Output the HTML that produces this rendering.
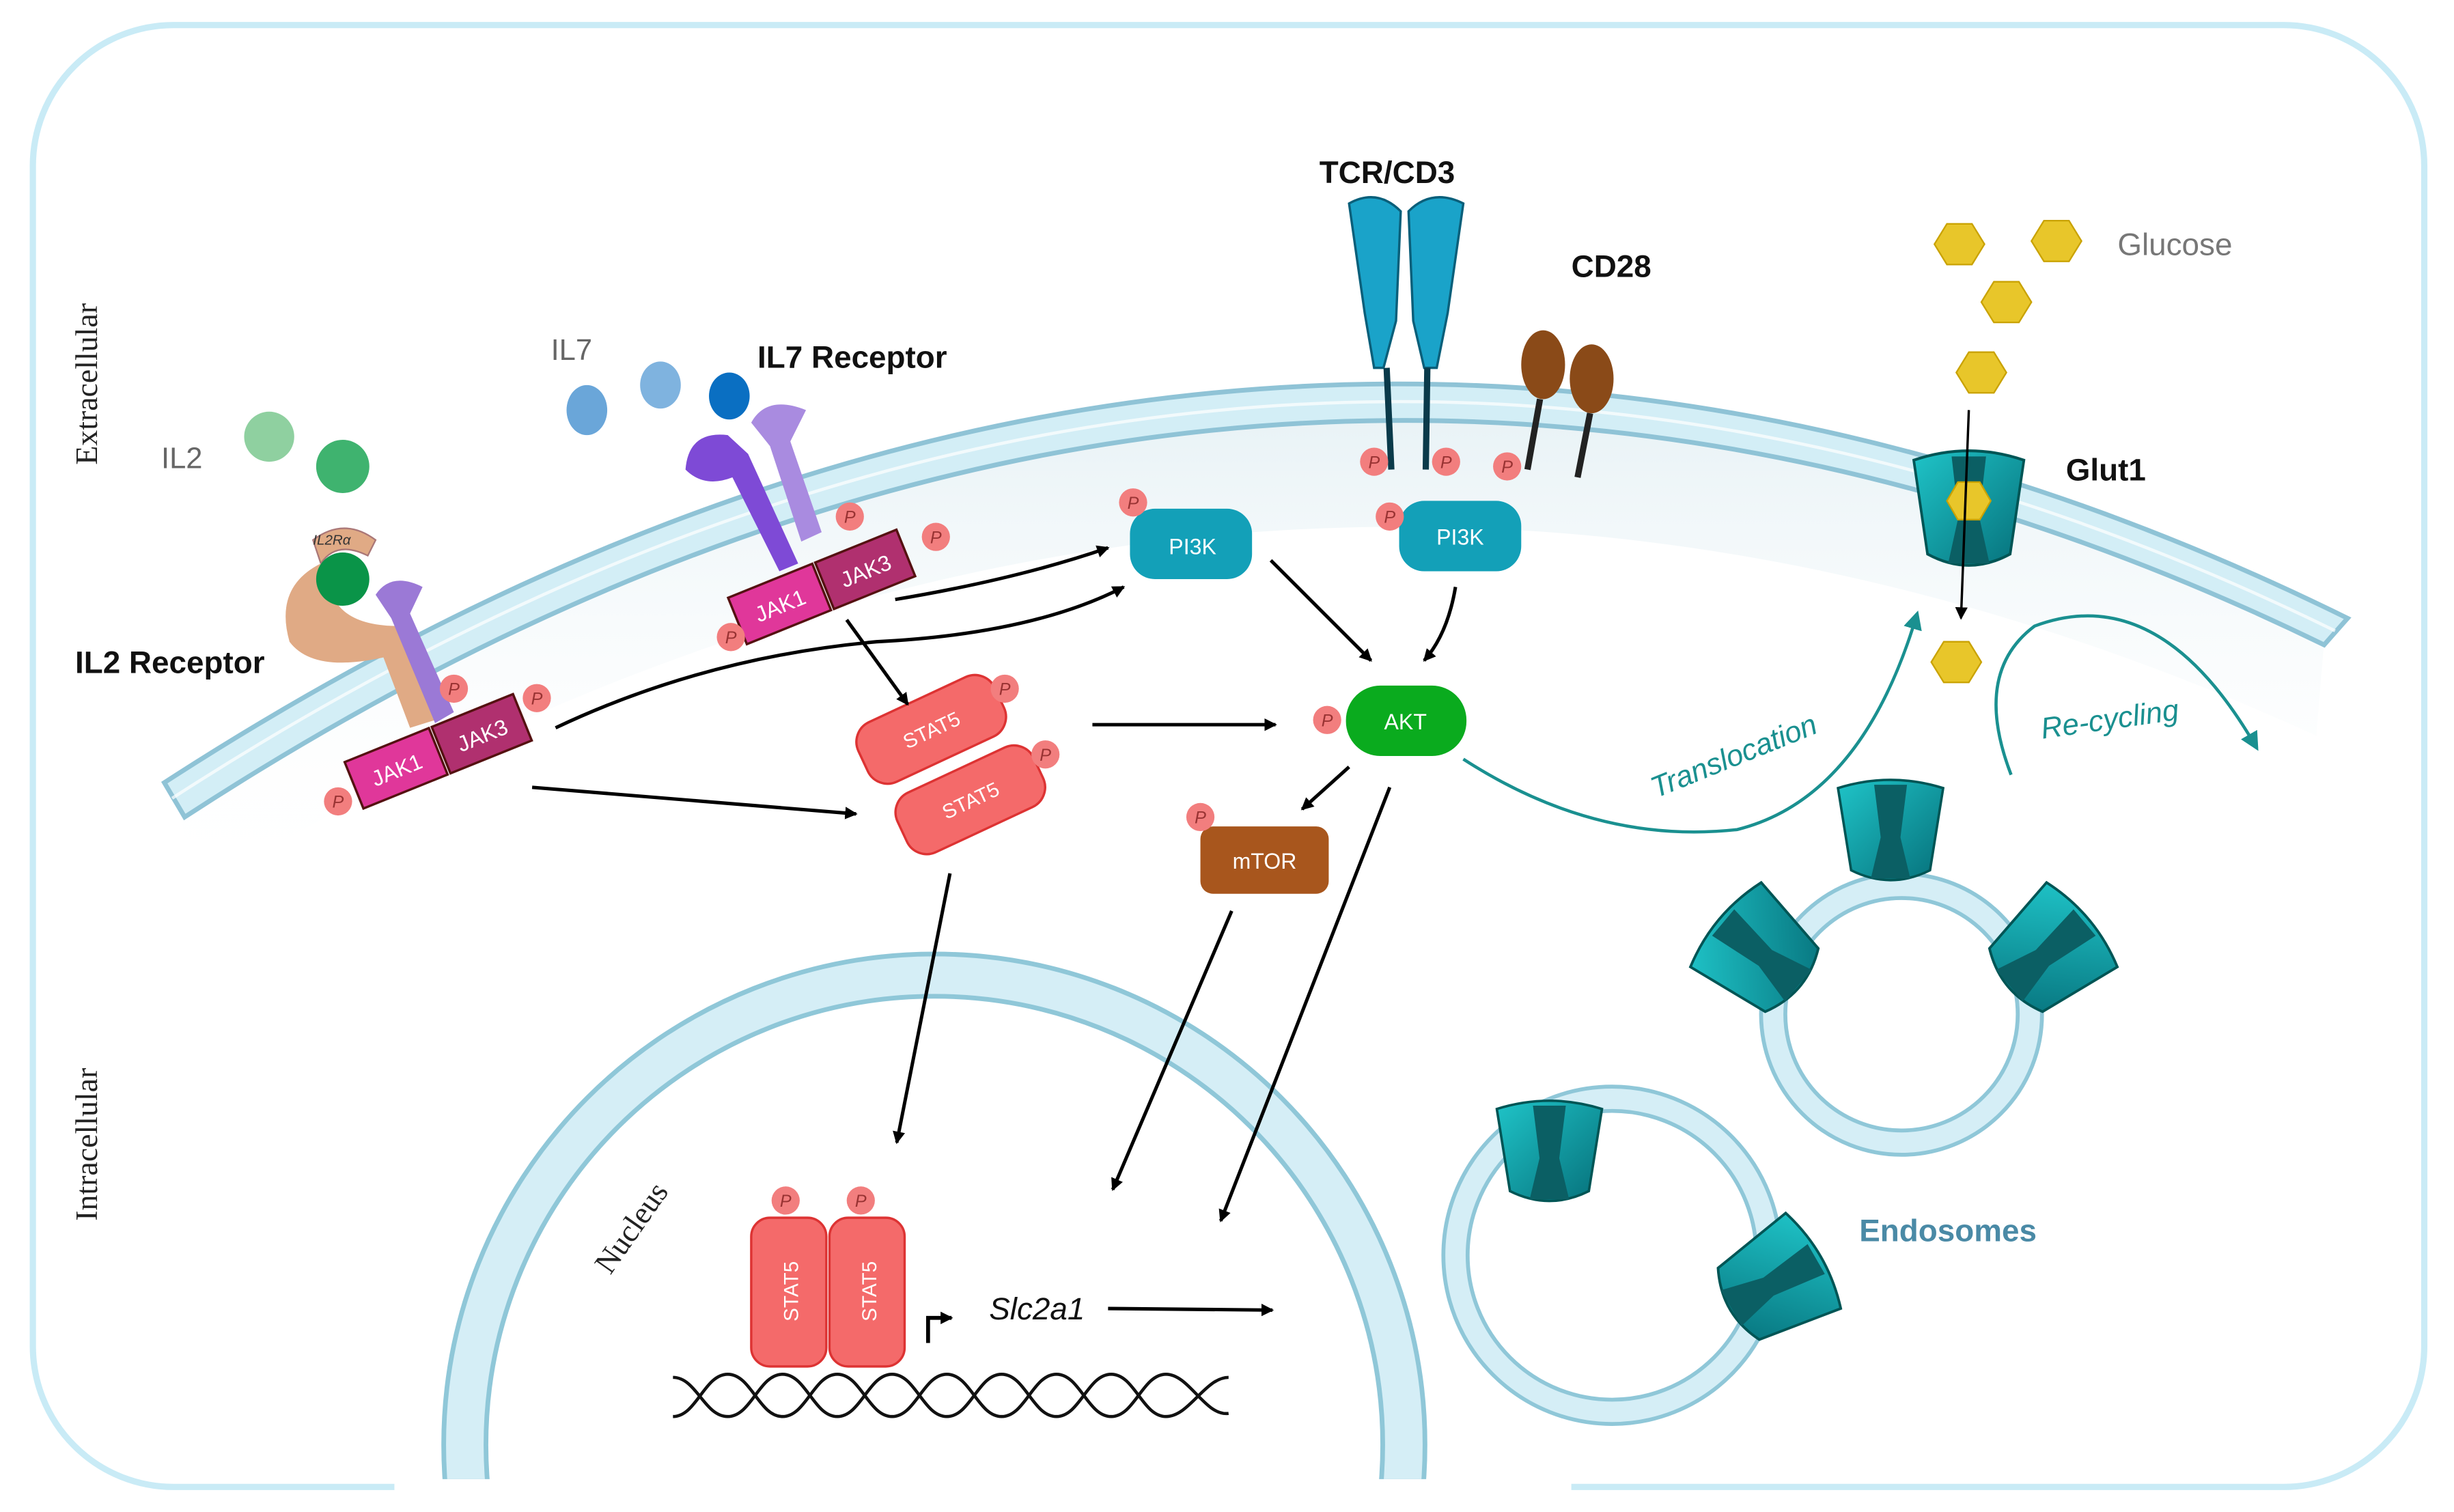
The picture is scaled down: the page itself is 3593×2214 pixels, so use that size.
<!DOCTYPE html>
<html><head><meta charset="utf-8"><style>
html,body{margin:0;padding:0;background:#fff;overflow:hidden;width:3593px;height:2214px}
svg{display:block}
text{font-family:"Liberation Sans",sans-serif}
text.serif{font-family:"Liberation Serif",serif}
</style></head><body>
<svg width="3593" height="2214" viewBox="0 0 1568 966" preserveAspectRatio="none" xmlns="http://www.w3.org/2000/svg">
<defs>
<marker id="ah" markerWidth="8" markerHeight="8" refX="7" refY="4" orient="auto" markerUnits="userSpaceOnUse"><path d="M0,0 L8,4 L0,8 Z" fill="#000"/></marker>
<marker id="at" markerWidth="12" markerHeight="12" refX="10" refY="6" orient="auto" markerUnits="userSpaceOnUse"><path d="M0,0 L12,6 L0,12 Z" fill="#1a9090"/></marker>
<linearGradient id="shade" x1="0" y1="0" x2="0" y2="1"><stop offset="0" stop-color="#e6f1f5"/><stop offset="1" stop-color="#fff" stop-opacity="0"/></linearGradient>
<linearGradient id="teal" x1="0" y1="0" x2="1" y2="1"><stop offset="0" stop-color="#1fc4c8"/><stop offset="1" stop-color="#06707a"/></linearGradient>
<clipPath id="nc"><rect x="0" y="0" width="1568" height="945"/></clipPath>
<g id="glut">
<path d="M-32,-30 Q0,-40 32,-30 L24,20 Q0,32 -24,20 Z" fill="url(#teal)" stroke="#055" stroke-width="1.5"/>
<path d="M-10,-32 L10,-32 L6,0 L12,25 L-12,25 L-6,0 Z" fill="#0b5f64"/>
</g>
<g id="pp"><circle r="9" fill="#f27e7e"/><text x="0" y="4" font-size="11" text-anchor="middle" fill="#933" font-style="italic">P</text></g>
</defs>
<rect x="21" y="16" width="1528" height="934" rx="90" fill="none" stroke="#c9ebf6" stroke-width="4"/>
<rect x="252" y="940" width="752" height="20" fill="#fff"/>
<path d="M115,520 Q800,75 1485,410 L1480,470 Q800,160 125,570 Z" fill="url(#shade)" opacity="0.9"/>
<path d="M105,500 Q800,50 1500,395 L1485,412 Q800,78 118,522 Z" fill="#d3eef6" stroke="#8fc3d6" stroke-width="3"/>
<path d="M110,510 Q800,64 1492,403" fill="none" stroke="#fff" stroke-width="2" opacity="0.7"/>
<g clip-path="url(#nc)">
<circle cx="597" cy="923" r="300" fill="none" stroke="#8fc7d8" stroke-width="30"/>
<circle cx="597" cy="923" r="300" fill="none" stroke="#d5eef6" stroke-width="24"/>
</g>
<circle cx="1215" cy="648" r="82" fill="none" stroke="#8fc7d8" stroke-width="18"/>
<circle cx="1215" cy="648" r="82" fill="none" stroke="#d5eef6" stroke-width="13"/>
<circle cx="1030" cy="802" r="100" fill="none" stroke="#8fc7d8" stroke-width="18"/>
<circle cx="1030" cy="802" r="100" fill="none" stroke="#d5eef6" stroke-width="13"/>
<use href="#glut" transform="translate(1208,535) scale(1.05)"/>
<use href="#glut" transform="translate(1128,612) rotate(-50) scale(1.1)"/>
<use href="#glut" transform="translate(1305,612) rotate(50) scale(1.1)"/>
<use href="#glut" transform="translate(990,740) scale(1.05)"/>
<use href="#glut" transform="translate(1130,822) rotate(60) scale(1.1)"/>
<text x="1188" y="793" font-size="20" font-weight="bold" fill="#4a8aa6">Endosomes</text>
<text class="serif" transform="translate(62,297) rotate(-90)" font-size="20" fill="#222">Extracellular</text>
<text class="serif" transform="translate(62,780) rotate(-90)" font-size="20" fill="#222">Intracellular</text>
<text class="serif" transform="translate(390,815) rotate(-55)" font-size="20" fill="#222">Nucleus</text>
<text x="103" y="299" font-size="19" fill="#666">IL2</text>
<circle cx="172" cy="279" r="16" fill="#8fd0a0"/>
<circle cx="219" cy="298" r="17" fill="#3fb36f"/>
<text x="48" y="430" font-size="20" font-weight="bold" fill="#111">IL2 Receptor</text>
<path d="M200,345 Q220,330 240,345 L235,355 Q215,345 205,360 Z" fill="#e0aa85" stroke="#a77" stroke-width="1"/>
<text x="200" y="348" font-size="9" fill="#333" font-style="italic">IL2Rα</text>
<path d="M205,360 Q175,375 185,410 Q200,430 245,420 L262,465 L278,460 L255,400 Q225,400 215,385 Z" fill="#e0aa85"/>
<circle cx="219" cy="370" r="17" fill="#0a9448"/>
<path d="M240,380 Q250,365 270,375 L262,392 L290,455 L278,462 L250,395 Z" fill="#9b79d6"/>
<g transform="translate(280,480) rotate(-22)">
<rect x="-58" y="-16" width="58" height="32" fill="#e0379a" stroke="#511" stroke-width="1.5"/>
<rect x="2" y="-16" width="56" height="32" fill="#b0306f" stroke="#511" stroke-width="1.5"/>
<text x="-29" y="6" font-size="14" fill="#fff" text-anchor="middle">JAK1</text>
<text x="30" y="6" font-size="14" fill="#fff" text-anchor="middle">JAK3</text>
</g>
<use href="#pp" x="216" y="512"/><use href="#pp" x="290" y="440"/><use href="#pp" x="343" y="446"/>
<text x="352" y="230" font-size="19" fill="#666">IL7</text>
<ellipse cx="375" cy="262" rx="13" ry="16" fill="#6aa6d9"/>
<ellipse cx="422" cy="246" rx="13" ry="15" fill="#7fb3df"/>
<ellipse cx="466" cy="253" rx="13" ry="15" fill="#0a6fc2"/>
<text x="484" y="235" font-size="20" font-weight="bold" fill="#111">IL7 Receptor</text>
<path d="M438,300 Q440,275 465,278 L478,290 L510,360 L498,365 L468,305 Q450,312 438,300 Z" fill="#7e4ad6"/>
<path d="M480,270 Q490,252 515,262 L505,282 L525,340 L512,346 L492,285 Z" fill="#a98be0"/>
<g transform="translate(525,375) rotate(-22)">
<rect x="-58" y="-16" width="58" height="32" fill="#e0379a" stroke="#511" stroke-width="1.5"/>
<rect x="2" y="-16" width="56" height="32" fill="#b0306f" stroke="#511" stroke-width="1.5"/>
<text x="-29" y="6" font-size="14" fill="#fff" text-anchor="middle">JAK1</text>
<text x="30" y="6" font-size="14" fill="#fff" text-anchor="middle">JAK3</text>
</g>
<use href="#pp" x="467" y="407"/><use href="#pp" x="543" y="330"/><use href="#pp" x="598" y="343"/>
<g transform="translate(595,466) rotate(-25)"><rect x="-48" y="-21" width="96" height="42" rx="14" fill="#f46a6a" stroke="#d33" stroke-width="1.5"/><text x="0" y="5" font-size="13" fill="#fff" text-anchor="middle">STAT5</text></g>
<g transform="translate(620,511) rotate(-25)"><rect x="-48" y="-21" width="96" height="42" rx="14" fill="#f46a6a" stroke="#d33" stroke-width="1.5"/><text x="0" y="5" font-size="13" fill="#fff" text-anchor="middle">STAT5</text></g>
<use href="#pp" x="642" y="440"/><use href="#pp" x="668" y="482"/>
<text x="843" y="117" font-size="20" font-weight="bold" fill="#111">TCR/CD3</text>
<path d="M862,130 Q880,120 895,135 L892,205 L884,235 L878,235 L872,200 Z" fill="#1aa3c9" stroke="#0a5f7a" stroke-width="1.5"/>
<path d="M900,135 Q915,120 935,130 L925,200 L918,235 L910,235 L903,205 Z" fill="#1aa3c9" stroke="#0a5f7a" stroke-width="1.5"/>
<line x1="886" y1="235" x2="889" y2="300" stroke="#0a3a4a" stroke-width="4"/>
<line x1="912" y1="235" x2="911" y2="300" stroke="#0a3a4a" stroke-width="4"/>
<text x="1004" y="177" font-size="20" font-weight="bold" fill="#111">CD28</text>
<ellipse cx="986" cy="233" rx="14" ry="22" fill="#8a4a18"/>
<ellipse cx="1017" cy="242" rx="14" ry="22" fill="#8a4a18"/>
<line x1="984" y1="255" x2="976" y2="300" stroke="#222" stroke-width="4"/>
<line x1="1016" y1="264" x2="1008" y2="305" stroke="#222" stroke-width="4"/>
<use href="#pp" x="878" y="295"/><use href="#pp" x="924" y="295"/><use href="#pp" x="963" y="298"/>
<rect x="722" y="325" width="78" height="45" rx="16" fill="#13a0b8"/>
<text x="762" y="354" font-size="14" fill="#fff" text-anchor="middle">PI3K</text>
<use href="#pp" x="724" y="321"/>
<rect x="894" y="320" width="78" height="45" rx="16" fill="#13a0b8"/>
<text x="933" y="348" font-size="14" fill="#fff" text-anchor="middle">PI3K</text>
<use href="#pp" x="888" y="330"/>
<rect x="860" y="438" width="77" height="45" rx="22" fill="#0aab1e"/>
<text x="898" y="466" font-size="14" fill="#fff" text-anchor="middle">AKT</text>
<use href="#pp" x="848" y="460"/>
<rect x="767" y="528" width="82" height="43" rx="8" fill="#a8561d"/>
<text x="808" y="555" font-size="14" fill="#fff" text-anchor="middle">mTOR</text>
<use href="#pp" x="767" y="522"/>
<text x="1353" y="163" font-size="20" fill="#777">Glucose</text>
<g fill="#e8c62a" stroke="#c9a200">
<polygon points="1236,156 1244,143 1260,143 1268,156 1260,169 1244,169"/>
<polygon points="1298,154 1306,141 1322,141 1330,154 1322,167 1306,167"/>
<polygon points="1266,193 1274,180 1290,180 1298,193 1290,206 1274,206"/>
<polygon points="1250,238 1258,225 1274,225 1282,238 1274,251 1258,251"/>
<polygon points="1234,423 1242,410 1258,410 1266,423 1258,436 1242,436"/>
</g>
<text x="1320" y="307" font-size="20" font-weight="bold" fill="#111">Glut1</text>
<use href="#glut" transform="translate(1258,330) scale(1.1,1.2)"/>
<polygon points="1244,320 1251,308 1265,308 1272,320 1265,332 1251,332" fill="#e8c62a" stroke="#c9a200"/>
<line x1="1258" y1="262" x2="1253" y2="395" stroke="#000" stroke-width="1.5" marker-end="url(#ah)"/>
<path d="M935,485 Q1020,540 1110,530 Q1190,510 1225,392" fill="none" stroke="#1a9090" stroke-width="2" marker-end="url(#at)"/>
<text transform="translate(1058,510) rotate(-22)" font-size="19" font-style="italic" fill="#1a9090">Translocation</text>
<path d="M1285,495 Q1260,430 1300,400 Q1380,370 1442,478" fill="none" stroke="#1a9090" stroke-width="2" marker-end="url(#at)"/>
<text transform="translate(1305,472) rotate(-8)" font-size="19" font-style="italic" fill="#1a9090">Re-cycling</text>
<g fill="none" stroke="#000" stroke-width="2.2" marker-end="url(#ah)">
<path d="M572,383 Q650,370 708,350"/>
<path d="M355,465 Q450,420 560,410 Q660,405 718,375"/>
<path d="M541,396 L580,450"/>
<path d="M340,503 L547,520"/>
<path d="M698,463 L815,463"/>
<path d="M812,358 L876,422"/>
<path d="M930,375 Q925,405 910,422"/>
<path d="M862,490 L832,517"/>
<path d="M607,558 L573,730"/>
<path d="M787,582 L711,760"/>
<path d="M888,503 L780,780"/>
<path d="M708,836 L813,837"/>
</g>
<rect x="480" y="778" width="48" height="95" rx="12" fill="#f46a6a" stroke="#d33" stroke-width="1.5"/>
<rect x="530" y="778" width="48" height="95" rx="12" fill="#f46a6a" stroke="#d33" stroke-width="1.5"/>
<text transform="translate(510,825) rotate(-90)" font-size="13" fill="#fff" text-anchor="middle">STAT5</text>
<text transform="translate(560,825) rotate(-90)" font-size="13" fill="#fff" text-anchor="middle">STAT5</text>
<use href="#pp" x="502" y="767"/><use href="#pp" x="550" y="767"/>
<path d="M593,858 L593,842 L608,842" fill="none" stroke="#000" stroke-width="2.5" marker-end="url(#ah)"/>
<text x="632" y="843" font-size="20" font-style="italic" fill="#111">Slc2a1</text>
<path d="M430,905 C445,905 450,878 465,878 C480,878 485,905 500,905 C515,905 520,878 535,878 C550,878 555,905 570,905 C585,905 590,878 605,878 C620,878 625,905 640,905 C655,905 660,878 675,878 C690,878 695,905 710,905 C725,905 730,878 745,878 C760,878 770,905 785,903" fill="none" stroke="#111" stroke-width="2"/>
<path d="M430,880 C445,880 450,905 465,905 C480,905 485,878 500,878 C515,878 520,905 535,905 C550,905 555,878 570,878 C585,878 590,905 605,905 C620,905 625,878 640,878 C655,878 660,905 675,905 C690,905 695,878 710,878 C725,878 730,905 745,905 C760,905 770,880 785,880" fill="none" stroke="#111" stroke-width="2"/>
</svg>
</body></html>
